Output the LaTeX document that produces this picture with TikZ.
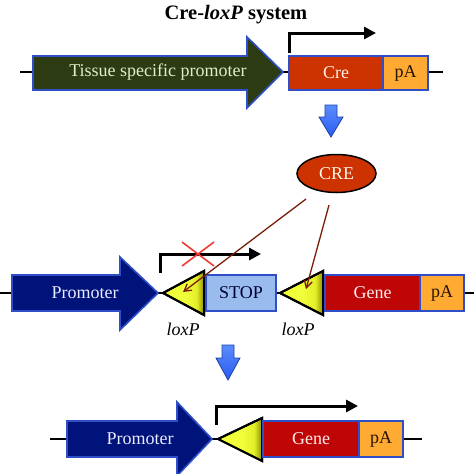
\documentclass[tikz,border=0pt]{standalone}
\usepackage{fontspec}
\setmainfont{Liberation Serif}
\usetikzlibrary{arrows.meta,shapes.geometric,calc}
\definecolor{bordblue}{HTML}{2E4FC8}
\definecolor{olive}{HTML}{2C3B12}
\definecolor{olivetext}{HTML}{E4EDC6}
\definecolor{crered}{HTML}{CC3300}
\definecolor{paorange}{HTML}{FFAA33}
\definecolor{navy}{HTML}{00137A}
\definecolor{stopblue}{HTML}{99BBEE}
\definecolor{genered}{HTML}{BF0606}
\definecolor{brownarr}{HTML}{7A1E0A}
\definecolor{xred}{HTML}{F03A3A}
\definecolor{downblue}{HTML}{2A5CF0}
\definecolor{downlight}{HTML}{5A8CFF}
\definecolor{triyel}{HTML}{F0FF3A}
\definecolor{trimid}{HTML}{E2EE28}
\definecolor{tridark}{HTML}{8E8E00}
\pgfdeclarehorizontalshading{loxshade}{100bp}{color(0bp)=(triyel); color(25bp)=(triyel); color(52bp)=(triyel); color(66bp)=(trimid); color(75bp)=(tridark); color(100bp)=(tridark)}
\begin{document}
\begin{tikzpicture}[x=1pt,y=-1pt,
  txt/.style={font=\fontsize{18}{20}\selectfont, inner sep=0pt},
  boxnode/.style={draw=bordblue, line width=2pt, inner sep=0pt, font=\fontsize{18}{20}\selectfont},
  dnaline/.style={line width=2pt, black},
  bigarrow/.style={draw=bordblue, line width=1.6pt, line join=miter},
  loxtri/.style={draw=black, line width=2pt, line join=miter, shading=loxshade, shading angle=0},
  tss/.style={line width=3pt, -{Triangle[length=12pt,width=12pt]}, line join=miter},
  crearrow/.style={brownarr, line width=1.3pt, -{Straight Barb[length=7pt,width=8pt]}},
  downarr/.style={draw=downblue!70!black, line width=0.8pt, top color=downlight, bottom color=downblue},
  xline/.style={xred, line width=1.6pt}
]
\useasboundingbox (0,0) rectangle (474,474);
\fill[white] (0,0) rectangle (474,474);

% Title
\node[inner sep=0pt, font=\fontsize{20.5}{22}\selectfont\bfseries] (title) at (236,15) {Cre-\textit{loxP} system};

% ---------- Top row ----------
\draw[dnaline] (20,72) -- (443,72);
\draw[bigarrow, fill=olive] (33,56) -- (247,56) -- (247,37) -- (283,72) -- (247,108) -- (247,90) -- (33,90) -- cycle;
\node[txt, text=olivetext] (tsp) at (158,72) {Tissue specific promoter};
\node[boxnode, fill=crered, text=white!92!orange, minimum width=94pt, minimum height=34pt] (cre) at (336,73) {Cre};
\node[boxnode, fill=paorange, text=black!85!orange, minimum width=45pt, minimum height=34pt] (pa1) at (405.5,73) {pA};
\coordinate (tss1) at (289,53);
\coordinate (tss1e) at (376,33);
\draw[tss] (tss1) |- (tss1e);

% Down arrow 1
\path[downarr] (325,105) -- (337,105) -- (337,117) -- (343,117) -- (331,137) -- (319,117) -- (325,117) -- cycle;

% ---------- Middle row ----------
\node[ellipse, draw=black, line width=1.5pt, fill=crered, text=white!92!orange, minimum width=79pt, minimum height=38pt, inner sep=0pt, font=\fontsize{18}{20}\selectfont] (creprot) at (336.5,173.5) {CRE};

\draw[dnaline] (0,293) -- (474,293);
\draw[bigarrow, fill=navy] (12,275) -- (120,275) -- (120,257) -- (158,293) -- (120,330) -- (120,311) -- (12,311) -- cycle;
\node[txt, text=white!92!blue] (prom1) at (85,293) {Promoter};
\path[loxtri] (163,293) -- (204,271) -- (204,315) -- cycle;
\draw[black, line width=2pt, line join=miter] (163,293) -- (204,271) -- (204,315) -- cycle;
\node[boxnode, fill=stopblue, text=black!80!blue, minimum width=70pt, minimum height=36pt] (stop) at (241,293) {STOP};
\path[loxtri] (280,293) -- (323,271) -- (323,315) -- cycle;
\draw[black, line width=2pt, line join=miter] (280,293) -- (323,271) -- (323,315) -- cycle;
\node[boxnode, fill=genered, text=white!92!red, minimum width=95pt, minimum height=36pt] (gene1) at (372.5,293) {Gene};
\node[boxnode, fill=paorange, text=black!85!orange, minimum width=44pt, minimum height=36pt] (pa2) at (442,293) {pA};
\node[txt, font=\fontsize{18}{20}\selectfont\itshape] (lox1) at (183,329) {loxP};
\node[txt, font=\fontsize{18}{20}\selectfont\itshape] (lox2) at (298,329) {loxP};

\coordinate (tss2) at (160,273);
\coordinate (tss2e) at (261,254);
\draw[tss] (tss2) |- (tss2e);
\coordinate (xc) at (198,254);
\draw[xline] ($(xc)+(-16,-12)$) -- ($(xc)+(16,12)$);
\draw[xline] ($(xc)+(-16,12)$) -- ($(xc)+(16,-12)$);

\coordinate (s1) at (306,199);
\coordinate (t1) at (183,292);
\coordinate (s2) at (329,205);
\coordinate (t2) at (306,289);
\draw[crearrow] (s1) -- (t1);
\draw[crearrow] (s2) -- (t2);

% Down arrow 2
\path[downarr] (222,345) -- (234,345) -- (234,358) -- (240,358) -- (228,380) -- (216,358) -- (222,358) -- cycle;

% ---------- Bottom row ----------
\draw[dnaline] (50,439) -- (422,439);
\draw[bigarrow, fill=navy] (67,421) -- (177,421) -- (177,402) -- (212,439) -- (177,476) -- (177,457) -- (67,457) -- cycle;
\node[txt, text=white!92!blue] (prom2) at (140,439) {Promoter};
\path[loxtri] (218,439) -- (262,418) -- (262,461) -- cycle;
\draw[black, line width=2pt, line join=miter] (218,439) -- (262,418) -- (262,461) -- cycle;
\node[boxnode, fill=genered, text=white!92!red, minimum width=96pt, minimum height=36pt] (gene2) at (311,439) {Gene};
\node[boxnode, fill=paorange, text=black!85!orange, minimum width=44pt, minimum height=36pt] (pa3) at (381,439) {pA};
\coordinate (tss3) at (216,425);
\coordinate (tss3e) at (358,406);
\draw[tss] (tss3) |- (tss3e);
\end{tikzpicture}
\end{document}
